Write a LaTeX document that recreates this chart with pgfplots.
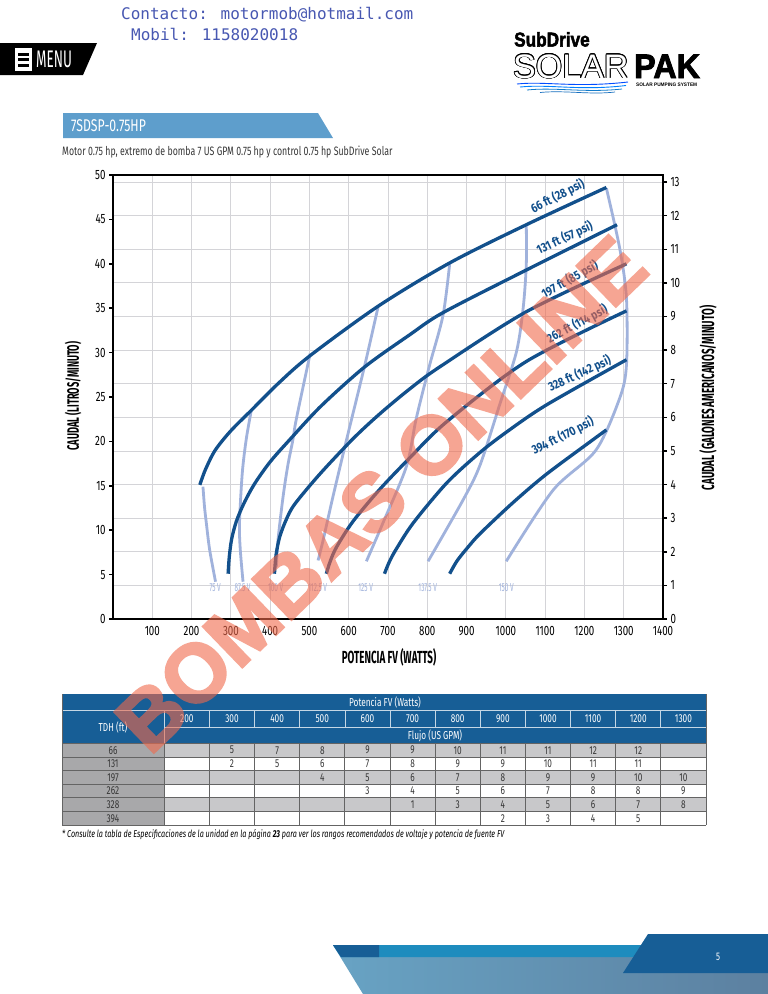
\documentclass[border=0pt]{standalone}
\usepackage{fontspec}
\usepackage{pgfplots}
\pgfplotsset{compat=1.18}
\usepackage{contour}
\setmainfont{Fira Sans}
\newfontfamily\cf{Fira Sans}[FakeStretch=0.72]
\newfontfamily\cfb{Fira Sans}[FakeStretch=0.56]
\newfontfamily\cfm{Fira Sans}[FakeStretch=0.82]
\newfontfamily\mono{DejaVu Sans Mono}
\newfontfamily\arial{Liberation Sans}
\newfontfamily\arialbb{Liberation Sans Bold}[FakeBold=2.5]
\newfontfamily\wmf{Liberation Sans Bold}[FakeBold=3]
\newcommand{\fs}[1]{\fontsize{#1}{#1}\selectfont}
\definecolor{dkblue}{RGB}{18,80,140}
\definecolor{ltblue}{RGB}{160,178,220}
\definecolor{gridc}{RGB}{212,212,216}
\definecolor{hdrblue}{RGB}{72,88,178}
\definecolor{titleblue}{RGB}{94,158,204}
\definecolor{tblue}{RGB}{23,94,150}
\definecolor{tdhgray}{RGB}{168,168,170}
\definecolor{rowgray}{RGB}{200,200,202}
\definecolor{bordc}{RGB}{100,100,100}
\definecolor{txtc}{RGB}{55,55,55}
\definecolor{wm}{RGB}{240,105,75}
\definecolor{teal}{RGB}{30,140,190}
\definecolor{steelL}{RGB}{104,163,196}
\definecolor{steelR}{RGB}{92,128,160}
\begin{document}
\begin{tikzpicture}
\path[use as bounding box] (0pt,0pt) rectangle (768pt,-994pt);
\fill[white] (0pt,0pt) rectangle (768pt,-994pt);

\begin{scope}[x=1pt,y=-1pt]
% header contact
\node[anchor=base west, inner sep=0, text=hdrblue, font=\mono\fs{16}] at (121,19) {Contacto: motormob@hotmail.com};
\node[anchor=base west, inner sep=0, text=hdrblue, font=\mono\fs{16}] at (131,40) {Mobil: 1158020018};
% menu
\fill[black] (0,43) -- (97,43) -- (83,75) -- (0,75) -- cycle;
\fill[white] (15,48) rectangle (32,71);
\fill[black] (18,52.5) rectangle (29,55.5);
\fill[black] (18,58) rectangle (29,61);
\fill[black] (18,63.5) rectangle (29,66.5);
\node[anchor=west, inner sep=0, text=white, font=\cfb\fs{24}] at (36,59.5) {MENU};
% logo
\node[anchor=base west, inner sep=0, font=\arialbb\fs{20}] at (514,46.5) {\scalebox{0.86}[1]{SubDrive}};
\node[anchor=base west, inner sep=0, font=\arial\fs{34}] at (513,78) {\contourlength{0.8pt}\contour{black}{\textcolor{white}{SOLAR}}};
\node[anchor=base west, inner sep=0, font=\arialbb\fs{34}] at (634,78) {\scalebox{0.95}[1]{PAK}};
\node[anchor=base west, inner sep=0, font=\arial\bfseries\fs{5}] at (636,86) {\scalebox{0.95}[1]{SOLAR PUMPING SYSTEM}};
\draw[blue!70!cyan, line width=0.9pt] (517,84) .. controls (545,81) and (575,88) .. (628,82);
\draw[blue!50!cyan, line width=0.9pt] (520,87) .. controls (550,84) and (580,91) .. (626,85.5);
\draw[cyan!60!blue, line width=0.8pt] (527,90) .. controls (555,87) and (585,93) .. (622,89);
\draw[cyan!50!blue, line width=0.7pt] (540,92.5) .. controls (565,90) and (590,95) .. (615,92);
% title bar
\fill[titleblue] (63,113) -- (318,113) -- (333,138) -- (63,138) -- cycle;
\node[anchor=west, inner sep=0, text=white, font=\cf\fs{17}] at (71,126) {7SDSP-0.75HP};
\node[anchor=west, inner sep=0, text=txtc, font=\cf\fs{12.2}] at (62,152) {Motor 0.75 hp, extremo de bomba 7 US GPM 0.75 hp y control 0.75 hp SubDrive Solar};
% axis labels
\node[rotate=90, inner sep=0, font=\cfb\bfseries\fs{16.5}] at (73,396) {CAUDAL (LITROS/MINUTO)};
\node[rotate=90, inner sep=0, font=\cfb\bfseries\fs{17.5}] at (708,398) {CAUDAL (GALONES AMERICANOS/MINUTO)};
\node[inner sep=0, font=\cfb\bfseries\fs{17.5}] at (389,657) {POTENCIA FV (WATTS)};
\end{scope}

% ---------- GPM axis (grid, right labels)
\begin{axis}[
  at={(113pt,-619pt)}, anchor=south west, scale only axis, width=550pt, height=444pt,
  xmin=0, xmax=1400, ymin=0, ymax=13.21,
  xtick={100,200,...,1300}, xticklabels={},
  ytick={0,1,...,13}, ytick pos=right, yticklabel pos=right,
  grid=major, major grid style={gridc, line width=0.9pt},
  axis line style={draw=none},
  xtick style={draw=none},
  ytick style={black, line width=1.5pt}, major tick length=4pt, tick align=outside,
  yticklabel style={font=\cf\fs{13.5}},
  /pgf/number format/assume math mode=true,
]
\end{axis}

% ---------- main axis L/min
\begin{axis}[
  at={(113pt,-619pt)}, anchor=south west, scale only axis, width=550pt, height=444pt,
  xmin=0, xmax=1400, ymin=0, ymax=50,
  xtick={100,200,...,1400}, ytick={0,5,...,50},
  ytick pos=left, xtick pos=bottom,
  axis line style={black, line width=2.2pt},
  xtick style={draw=none},
  ytick style={black, line width=1.5pt}, major tick length=4pt, tick align=outside,
  ticklabel style={font=\cf\fs{13.5}},
  /pgf/number format/assume math mode=true,
  /pgf/number format/1000 sep={},
  clip=false,
  every axis plot/.append style={smooth},
  lt/.style={ltblue, line width=2.8pt},
  dk/.style={dkblue, line width=3.3pt},
]
% voltage curves
\addplot[lt] coordinates {(229,14.9) (233,12.6) (237.6,10.8) (246,7.8) (261,4.2)};
\addplot[lt] coordinates {(352,23.5) (339,20.2) (329,16.4) (322,10.8) (324,7.8) (331,4.2)};
\addplot[lt] coordinates {(502,29.9) (467,22.6) (458,20.2) (445,17.3) (433,13.8) (420,8.9) (416,5.9)};
\addplot[lt] coordinates {(675,35.2) (641,28.6) (594,20.1) (560,13.8) (535,8.9) (522,6.6)};
\addplot[lt] coordinates {(857,40) (840,34.2) (806,28.6) (772,22.6) (747,17.2) (687,10.8) (645,6.5)};
\addplot[lt] coordinates {(1052,44.4) (1052,39.9) (1044,35) (1027,30.1) (984,24.1) (934,17.3) (891,13.4) (802,6.5)};
\addplot[lt] coordinates {(1256,48.5) (1290,41.7) (1307,36.1) (1307,28.6) (1290,24.9) (1229,19) (1120,14.5) (1001,6.5)};
% head curves
\addplot[dk] coordinates {(221,15.1) (235,16.8) (260,19) (300,21.2) (352,23.5) (420,26.5) (500,29.6) (674,35.2) (857,40.1) (1052,44.4) (1256,48.6)};
\addplot[dk] coordinates {(293,5.1) (296,7) (302,9) (314,11) (333,13) (360,15.2) (400,17.7) (450,20.2) (530,24) (641,28.4) (755,32) (840,34.5) (1052,39.3) (1283,44.4)};
\addplot[dk] coordinates {(411,5.1) (415,7.2) (424,9.2) (440,11.1) (462,12.9) (526,16.3) (611,20.3) (679,23.1) (755,25.9) (832,28.4) (1052,34.6) (1307,40)};
\addplot[dk] coordinates {(543,5.1) (553,6.5) (569,8.1) (611,11) (679,14.6) (750,17.9) (849,22.2) (1052,29) (1307,34.7)};
\addplot[dk] coordinates {(691,5.1) (703,6.4) (720,7.8) (764,10.8) (849,15.3) (930,18.6) (1000,21) (1103,24.1) (1307,29.2)};
\addplot[dk] coordinates {(857,5.1) (875,6.5) (900,7.9) (934,9.6) (1018,13.1) (1103,16.3) (1222,20.2) (1256,21.3)};
% head labels
\begin{scope}[every node/.style={inner sep=0, text=dkblue, font=\cfm\bfseries\fs{12.5}}]
\node[rotate=27] at (axis cs:1132,47.6) {66 ft (28 psi)};
\node[rotate=25] at (axis cs:1150,42.9) {131 ft (57 psi)};
\node[rotate=29] at (axis cs:1163,38.2) {197 ft (85 psi)};
\node[rotate=28] at (axis cs:1182,33.2) {262 ft (114 psi)};
\node[rotate=25] at (axis cs:1188,27.6) {328 ft (142 psi)};
\node[rotate=27] at (axis cs:1145,20.6) {394 ft (170 psi)};
\end{scope}
% voltage labels
\begin{scope}[every node/.style={inner sep=0, text=ltblue, font=\cfb\fs{11.5}}]
\node at (axis cs:260,3.5) {75 V};
\node at (axis cs:330,3.5) {87.5 V};
\node at (axis cs:414,3.5) {100 V};
\node at (axis cs:521,3.5) {112.5 V};
\node at (axis cs:643,3.5) {125 V};
\node at (axis cs:801,3.5) {137.5 V};
\node at (axis cs:1001,3.5) {150 V};
\end{scope}
\end{axis}

\begin{scope}[x=1pt,y=-1pt]
% ---------- table
\fill[tblue] (62,694) rectangle (706,743.3);
\draw[white!75!tblue, line width=0.7pt] (62,710.7) -- (706,710.7);
\draw[white!75!tblue, line width=0.7pt] (164.3,727.3) -- (706,727.3);
\draw[white!75!tblue, line width=0.7pt] (164.3,710.7) -- (164.3,743.3);
\foreach \i in {1,...,11} \draw[white!75!tblue, line width=0.7pt] (164.3+\i*45.14,710.7) -- (164.3+\i*45.14,727.3);
\node[inner sep=0, text=white, font=\cf\fs{11.5}] at (385,702.5) {Potencia FV (Watts)};
\node[inner sep=0, text=white, font=\cf\fs{11.5}] at (113,727) {TDH (ft)};
\node[inner sep=0, text=white, font=\cf\fs{11.5}] at (435,735.5) {Flujo (US GPM)};
\foreach \w [count=\i from 0] in {200,300,400,500,600,700,800,900,1000,1100,1200,1300}
  \node[inner sep=0, text=white, font=\cf\fs{11.5}] at (164.3+\i*45.14+22.57,719) {\w};
% body
\foreach \k in {0,...,5} {
  \fill[tdhgray] (62,743.3+\k*13.62) rectangle (164.3,743.3+\k*13.62+13.62);
}
\foreach \k in {0,2,4} {
  \fill[rowgray] (164.3,743.3+\k*13.62) rectangle (706,743.3+\k*13.62+13.62);
}
\foreach \k in {0,...,6} \draw[bordc, line width=0.8pt] (62,743.3+\k*13.62) -- (706,743.3+\k*13.62);
\foreach \i in {0,...,12} \draw[bordc, line width=0.8pt] (164.3+\i*45.14,743.3) -- (164.3+\i*45.14,825);
\draw[bordc, line width=0.8pt] (62,694) -- (62,825);
\draw[bordc, line width=0.8pt] (706,694) -- (706,825);
\foreach \t/\vals [count=\k from 0] in {
  66/{1/5,2/7,3/8,4/9,5/9,6/10,7/11,8/11,9/12,10/12},
  131/{1/2,2/5,3/6,4/7,5/8,6/9,7/9,8/10,9/11,10/11},
  197/{3/4,4/5,5/6,6/7,7/8,8/9,9/9,10/10,11/10},
  262/{4/3,5/4,6/5,7/6,8/7,9/8,10/8,11/9},
  328/{5/1,6/3,7/4,8/5,9/6,10/7,11/8},
  394/{7/2,8/3,9/4,10/5}} {
  \node[inner sep=0, text=txtc, font=\cf\fs{11.5}] at (113,743.3+\k*13.62+6.9) {\t};
  \foreach \c/\v in \vals
    \node[inner sep=0, text=txtc, font=\cf\fs{11.5}] at (164.3+\c*45.14+22.57,743.3+\k*13.62+6.9) {\v};
}
\node[anchor=west, inner sep=0, text=black, font=\cf\itshape\fs{10}] at (62,835) {* Consulte la tabla de Especificaciones de la unidad en la página \textbf{23} para ver los rangos recomendados de voltaje y potencia de fuente FV};

% ---------- footer
\shade[left color=steelL, right color=steelR] (333,945) -- (768,945) -- (768,994) -- (363,994) -- cycle;
\fill[teal] (333,945) -- (652,945) -- (646,957) -- (341,957) -- cycle;
\fill[tblue] (333,945) -- (379,945) -- (379,957) -- (341,957) -- cycle;
\fill[tblue] (648,934) -- (768,934) -- (768,973) -- (623,973) -- cycle;
\node[inner sep=0, text=white, font=\cf\fs{11}] at (718,957) {5};

% ---------- watermark
\begin{scope}[transparency group, opacity=0.6]
\node[rotate=44, inner sep=0, text=wm, font=\wmf\fs{82}] at (381,494) {BOMBAS ONLINE};
\end{scope}
\end{scope}
\end{tikzpicture}
\end{document}
